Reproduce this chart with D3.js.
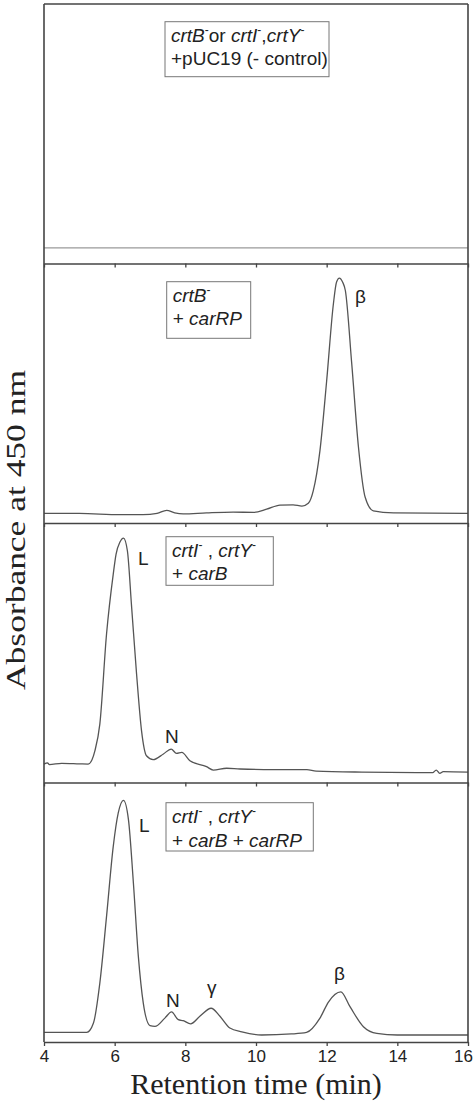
<!DOCTYPE html>
<html>
<head>
<meta charset="utf-8">
<script src="https://cdn.jsdelivr.net/npm/d3@7"></script>
<style>body{margin:0;background:#fff}</style>
</head>
<body>
<script>
var w = 474, h = 1102;

var xTicks = [4, 6, 8, 10, 12, 14, 16];

// panel 1: crtB- or crtI-,crtY- + pUC19 (flat baseline)
var ctrlTime = [4, 8, 12, 16];
var ctrlAbs  = [6.0, 6.0, 6.0, 6.0];

// panel 2: crtB- + carRP
var carRPTime = [4, 5, 6.15, 6.8, 7.2, 7.47, 7.7, 7.94, 8.6, 9.35, 9.93, 10.3, 10.68, 11.05, 11.3, 11.48,
                 11.62, 11.81, 12.0, 12.19, 12.28, 12.36, 12.45, 12.53, 12.71, 12.9, 13.09, 13.32, 13.89, 16];
var carRPAbs  = [3.7, 3.7, 3.2, 3.2, 3.7, 4.9, 3.9, 3.5, 3.9, 4.2, 4.1, 5.3, 6.9, 7.0, 6.5, 7.6,
                 12.4, 27.9, 54.8, 84.4, 92.9, 94.4, 92.9, 89.5, 61.3, 29.2, 9.9, 4.7, 3.9, 3.7];

// panel 3: crtI-, crtY- + carB
var carBTime = [4, 4.1, 4.15, 4.5, 5, 5.25, 5.44, 5.58, 5.77, 5.96, 6.04, 6.15, 6.25, 6.36, 6.48, 6.62,
                6.76, 6.9, 7.09, 7.38, 7.6, 7.75, 7.9, 8.13, 8.6, 8.79, 9.17, 9.55, 10.5, 11.44, 11.7,
                13, 15, 15.1, 15.2, 15.3, 16];
var carBAbs  = [7.1, 7.6, 6.9, 7.4, 7.2, 7.1, 12.2, 22.5, 57.2, 80.3, 88.0, 92.7, 94.2, 89.3, 67.6, 41.8,
                20.0, 10.3, 8.8, 11.0, 12.9, 11.2, 11.6, 8.4, 6.1, 4.8, 5.5, 5.2, 5.0, 5.0, 4.4,
                4.0, 3.8, 4.8, 3.5, 4.2, 4.0];

// panel 4: crtI-, crtY- + carB + carRP
var bothTime = [4, 5.21, 5.4, 5.58, 5.77, 5.96, 6.1, 6.25, 6.39, 6.53, 6.67, 6.81, 7.0, 7.14, 7.42, 7.61,
                7.8, 7.94, 8.15, 8.41, 8.73, 8.98, 9.26, 9.6, 10.16, 11, 11.43, 11.81, 12.05, 12.4,
                12.66, 13.04, 13.42, 14, 16];
var bothAbs  = [3.7, 3.7, 7.3, 22.7, 48.4, 75.4, 88.2, 93.1, 85.7, 61.3, 33.0, 15.0, 6.3, 6.0, 9.2, 11.6,
                8.6, 8.2, 7.0, 9.9, 13.0, 9.9, 5.4, 3.9, 2.7, 3.1, 3.7, 9.2, 15.4, 19.3,
                13.6, 5.9, 3.3, 2.7, 2.7];

var panelSeries = [
  {time: ctrlTime, abs: ctrlAbs, color: "#9a9a9a"},
  {time: carRPTime, abs: carRPAbs, color: "#555"},
  {time: carBTime, abs: carBAbs, color: "#555"},
  {time: bothTime, abs: bothAbs, color: "#555"}
];

// label boxes (positions relative to panel top); 0 plain, 1 italic, 2 superscript
var boxes = [
  {x: 165, y: 17.7, w: 164, h: 55, b1: 37.7, b2: 61,
   l1: [["crtB", 1], ["-", 2], ["or ", 0], ["crtI", 1], ["-", 2], [",", 0], ["crtY", 1], ["-", 2]],
   l2: [["+pUC19 (- control)", 0]]},
  {x: 166.7, y: 18.2, w: 84, h: 56.6, b1: 38.2, b2: 61.5,
   l1: [["crtB", 1], ["-", 2]],
   l2: [["+ ", 0], ["carRP", 1]]},
  {x: 166, y: 13.7, w: 107.3, h: 48.6, b1: 33.7, b2: 57,
   l1: [["crtI", 1], ["-", 2], [" , ", 0], ["crtY", 1], ["-", 2]],
   l2: [["+ ", 0], ["carB", 1]]},
  {x: 166, y: 20.2, w: 147.3, h: 48.3, b1: 40.8, b2: 64.2,
   l1: [["crtI", 1], ["-", 2], [" , ", 0], ["crtY", 1], ["-", 2]],
   l2: [["+ ", 0], ["carB", 1], [" + ", 0], ["carRP", 1]]}
];

// peak names (absolute positions)
var peakNames = [
  {t: "\u03B2", x: 355, y: 303},
  {t: "L", x: 138, y: 565},
  {t: "N", x: 165, y: 743},
  {t: "L", x: 139, y: 832},
  {t: "N", x: 166, y: 1007},
  {t: "\u03B3", x: 207, y: 994},
  {t: "\u03B2", x: 334, y: 980}
];

var mLeft = 44, mRight = 468, mTop = 4, panelH = 259.5;

var svg = d3.select("body").append("svg").attr("width", w).attr("height", h);

var x = d3.scaleLinear().domain([4, 16]).range([mLeft, mRight]);

panelSeries.forEach(function (s, i) {
  var y0 = mTop + i * panelH, y1 = y0 + panelH;
  var y = d3.scaleLinear().domain([0, 100]).range([y1, y0]);
  var pts = s.time.map(function (t, k) { return [t, s.abs[k]]; });

  var line = d3.line()
    .x(function (d) { return x(d[0]); })
    .y(function (d) { return y(d[1]); })
    .curve(d3.curveMonotoneX);

  svg.append("path")
    .datum(pts)
    .attr("d", line)
    .attr("fill", "none")
    .attr("stroke", s.color)
    .attr("stroke-width", 1.3);

  // bottom axis of every panel, numbers only on the last one
  var ax = svg.append("g")
    .attr("transform", "translate(0," + y1 + ")")
    .call(d3.axisBottom(x).tickValues(xTicks).tickSize(4).tickSizeOuter(0)
      .tickFormat(i == 3 ? d3.format("d") : ""));
  ax.select(".domain").attr("stroke", "#444").attr("stroke-width", 1.6);
  ax.selectAll(".tick line").attr("stroke", "#444").attr("stroke-width", 1.3);
  ax.selectAll(".tick text")
    .attr("font-family", "Liberation Sans, Arial, sans-serif")
    .attr("font-size", "17px")
    .attr("fill", "#222")
    .attr("y", 8)
    .attr("dx", function (d) { return d == 16 ? -5 : 0; });

  // label box
  var b = boxes[i];
  svg.append("rect")
    .attr("x", b.x).attr("y", y0 + b.y)
    .attr("width", b.w).attr("height", b.h)
    .attr("fill", "#fff").attr("stroke", "#777").attr("stroke-width", 1);

  [[b.l1, b.b1], [b.l2, b.b2]].forEach(function (ln) {
    var txt = svg.append("text")
      .attr("x", b.x + 6).attr("y", y0 + ln[1])
      .attr("font-family", "Liberation Sans, Arial, sans-serif")
      .attr("font-size", "19px")
      .attr("fill", "#222");
    var raised = false;
    ln[0].forEach(function (seg) {
      var ts = txt.append("tspan").text(seg[0]);
      if (seg[1] == 1) ts.attr("font-style", "italic");
      if (seg[1] == 2) {
        ts.attr("font-size", "12px").attr("dy", -8);
        raised = true;
      } else if (raised) {
        ts.attr("dy", 8);
        raised = false;
      }
    });
  });
});

// top line and side frame
svg.append("line").attr("x1", mLeft).attr("x2", mRight).attr("y1", mTop).attr("y2", mTop)
  .attr("stroke", "#444").attr("stroke-width", 1.6);
svg.append("line").attr("x1", mLeft).attr("x2", mLeft).attr("y1", mTop).attr("y2", mTop + 4 * panelH)
  .attr("stroke", "#444").attr("stroke-width", 1.6);
svg.append("line").attr("x1", mRight).attr("x2", mRight).attr("y1", mTop).attr("y2", mTop + 4 * panelH)
  .attr("stroke", "#444").attr("stroke-width", 1.6);

svg.selectAll("text.peak")
  .data(peakNames).enter()
  .append("text")
  .attr("class", "peak")
  .attr("x", function (d) { return d.x; })
  .attr("y", function (d) { return d.y; })
  .attr("font-family", "Liberation Sans, Arial, sans-serif")
  .attr("font-size", "19px")
  .attr("fill", "#222")
  .text(function (d) { return d.t; });

// axis titles
svg.append("text")
  .attr("x", (mLeft + mRight) / 2).attr("y", 1094)
  .attr("text-anchor", "middle")
  .attr("font-family", "Liberation Serif, Times New Roman, serif")
  .attr("font-size", "30px")
  .attr("fill", "#222")
  .text("Retention time (min)");

svg.append("text")
  .attr("transform", "translate(25,530) rotate(-90)")
  .attr("text-anchor", "middle")
  .attr("font-family", "Liberation Serif, Times New Roman, serif")
  .attr("font-size", "27px")
  .attr("textLength", 320)
  .attr("lengthAdjust", "spacingAndGlyphs")
  .attr("fill", "#222")
  .text("Absorbance at 450 nm");
</script>
</body>
</html>
